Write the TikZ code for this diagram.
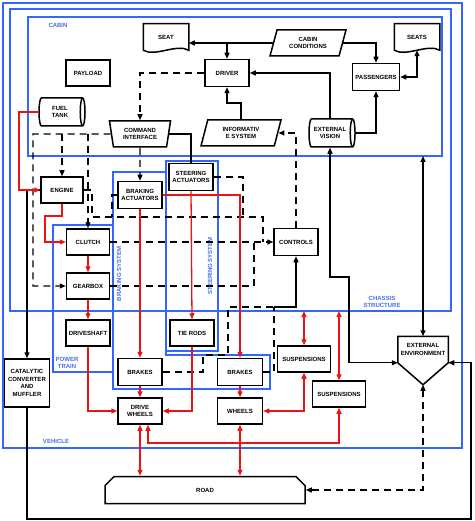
\documentclass[tikz,border=0pt]{standalone}
\usepackage{fontspec}
\setmainfont{Liberation Sans}
\usetikzlibrary{shapes.geometric,shapes.misc,arrows.meta}
\definecolor{frameblue}{RGB}{51,102,255}
\definecolor{tagblue}{RGB}{70,110,230}
\definecolor{flowred}{RGB}{235,20,20}
\begin{document}
\begin{tikzpicture}[x=1pt,y=-1pt,>={Triangle[length=6pt,width=5pt]},
  box/.style={draw,line width=1.5pt,fill=white,minimum width=44pt,minimum height=27pt,
    inner sep=1pt,align=center,font=\bfseries\fontsize{6}{7.5}\selectfont},
  plain/.style={box,draw=none,fill=none},
  cyl/.style={box,cylinder,aspect=0.35,minimum width=28pt,minimum height=46pt},
  slant/.style={box,trapezium,trapezium left angle=63,trapezium right angle=117,
    trapezium stretches body,minimum height=26pt},
  outline/.style={line width=1.5pt},
  frame/.style={draw=frameblue,line width=1.5pt},
  tag/.style={text=tagblue,align=center,font=\bfseries\fontsize{6}{7.5}\selectfont},
  link/.style={line width=1.3pt},
  sig/.style={link,dash pattern=on 7pt off 5pt},
  flow/.style={link,draw=flowred}]
\useasboundingbox (0,0) rectangle (474,521);
% Frames
\draw[frame,line width=2.5pt] (3,3) rectangle (462,448);
\draw[frame] (10,9) rectangle (451,311);
\draw[frame] (28,17) rectangle (442,156);
\draw[frame] (166,161) rectangle (218,351);
\draw[frame] (113,172) -- (166,172) -- (166,355) -- (270,355) -- (270,389) -- (113,389) -- cycle;
\draw[frame] (53,225) rectangle (113,372);
% Frame labels
\node[tag] (lcabin) at (58,25) {CABIN};
\node[tag] (lchassis) at (382,302) {CHASSIS\\STRUCTURE};
\node[tag] (lvehicle) at (56,441) {VEHICLE};
\node[tag] (lpower) at (67,363) {POWER\\TRAIN};
\node[tag,rotate=90] (lbraking) at (119,274) {BRAKING SYSTEM};
\node[tag,rotate=90] (lsteering) at (210,266) {STEERING SYSTEM};
% Cabin
\node[plain,minimum height=25pt] (seat) at (166,37) {SEAT};
\node[plain,minimum height=25pt] (seats) at (417,37) {SEATS};
\node[slant,minimum width=76pt] (cabcond) at (308,43) {CABIN\\CONDITIONS};
\node[box] (driver) at (227,73) {DRIVER};
\node[box,minimum width=47pt] (pass) at (376,77) {PASSENGERS};
\node[box,minimum height=26pt] (payload) at (88,73) {PAYLOAD};
\node[cyl] (fuel) at (60,112) {FUEL\\TANK};
\node[box,trapezium,shape border rotate=180,trapezium left angle=74,trapezium right angle=74,
  trapezium stretches body,minimum width=61pt,minimum height=26pt] (cmd) at (140,134) {COMMAND\\INTERFACE};
\node[slant,minimum width=80pt,trapezium left angle=64,trapezium right angle=116] (info) at (241,133) {INFORMATIV\\E SYSTEM};
\node[cyl] (extvis) at (330,133) {EXTERNAL\\VISION};
% Chassis
\node[box,minimum width=42pt,minimum height=26pt] (engine) at (62,190) {ENGINE};
\node[box] (brakact) at (140,195) {BRAKING\\ACTUATORS};
\node[box] (steeract) at (191,177) {STEERING\\ACTUATORS};
\node[box,minimum width=43pt,minimum height=26pt] (clutch) at (88,242) {CLUTCH};
\node[box,minimum width=43pt,minimum height=26pt] (gearbox) at (88,286) {GEARBOX};
\node[box] (controls) at (296,242) {CONTROLS};
\node[box,minimum height=26pt] (driveshaft) at (88,333) {DRIVESHAFT};
\node[box,minimum height=26pt] (tierods) at (192,333) {TIE RODS};
% Vehicle
\node[box,minimum width=45pt,minimum height=48pt] (catalytic) at (27,383) {CATALYTIC\\CONVERTER\\AND\\MUFFLER};
\node[box] (brakesA) at (140,372) {BRAKES};
\node[box,minimum width=45pt] (brakesB) at (240,372) {BRAKES};
\node[box,minimum height=26pt] (drivewh) at (140,411) {DRIVE\\WHEELS};
\node[box,minimum width=45pt,minimum height=26pt] (wheels) at (240,411) {WHEELS};
\node[box,minimum width=53pt,minimum height=26pt] (suspA) at (304,359) {SUSPENSIONS};
\node[box,minimum width=53pt,minimum height=26pt] (suspB) at (339,394) {SUSPENSIONS};
\node[plain,minimum width=49pt,minimum height=25pt] (env) at (423,349.5) {EXTERNAL\\ENVIRONMENT};
\node[box,chamfered rectangle,chamfered rectangle corners={north west,north east},
  chamfered rectangle sep=6pt,minimum width=200pt,minimum height=27pt] (road) at (205,490) {ROAD};
% Outlines
\foreach \d in {seat,seats}
  \draw[outline] (\d.south west) -- (\d.north west) -- (\d.north east) -- (\d.south east)
    .. controls +(-12,-7) and +(12,7) .. (\d.south west) -- cycle;
\coordinate (envtip) at ([yshift=-22pt]env.south);
\draw[outline] (env.north west) -- (env.north east) -- (env.south east) -- (envtip) -- (env.south west) -- cycle;
\coordinate (cabinb) at (423,156);
\coordinate (chA) at (304,311);
\coordinate (chB) at (339,311);
\coordinate (jbrk) at (274,307);
% Cabin links
\draw[link,->] (cabcond.west) -- (seat.east |- cabcond.west);
\draw[link,->] (driver.north |- cabcond.west) -- (driver.north);
\draw[link,->] (cabcond.east) -| (pass.north);
\draw[link,<->] (pass.east) -| (seats.south);
\draw[link,->] (extvis.north) |- (driver.east);
\draw[link,->] (extvis.east) -| (pass.south);
\draw[link,->] (info.north) -- (info.north |- 0,103) -| (driver.south);
% Commands
\draw[sig,->] (driver.west) -| (cmd.north);
\draw[sig,->] (cmd.west) -- (33,134) |- (gearbox.west);
\draw[sig,->] (engine.north |- cmd.west) -- (engine.north);
\draw[sig,->] (clutch.north |- cmd.west) -- (clutch.north);
\draw[sig,->] (cmd.south) -- (brakact.north);
\draw[link] (cmd.east) -| (steeract.north);
\draw[sig,->] (controls.north) |- (info.east);
% Feedback to controls
\draw[sig,->] (clutch.east) -- (controls.west);
\draw[sig] (gearbox.east) -| (254,242);
\draw[sig] (engine.east) -- (92,190) -- (92,217) -| (263,242);
\draw[sig] (brakact.west) -- (112,195) -- (112,217);
\draw[sig] (steeract.east) -| (243,217);
\draw[sig] (brakesA.east) -- (203,372) -- (203,355) -| (228,307) -- (jbrk);
\draw[sig] (brakesB.east) -| (jbrk);
\draw[link,->] (jbrk) -| (controls.south);
% Exhaust and environment
\draw[link,->] (engine.west) -| (catalytic.north);
\draw[link,->] (catalytic.south) -- (27,519) -- (471,519) |- (env.south east);
\draw[link,<->] (extvis.south) |- (349,277) |- (env.south west);
\draw[link,<->] (cabinb) -- (env.north);
\draw[sig,<->] (envtip) |- (road.east);
% Power flow
\draw[flow,->] (fuel.west) -- (19,112) |- (engine.west);
\draw[flow,->] (engine.south) |- (45,216) |- (clutch.west);
\draw[flow,->] (clutch.south) -- (gearbox.north);
\draw[flow,->] (gearbox.south) -- (driveshaft.north);
\draw[flow,->] (driveshaft.south) |- (drivewh.west);
\draw[flow,->] (tierods.south) |- (drivewh.east);
\draw[flow,->] (brakact.south) -- (brakesA.north);
\draw[flow,->] (brakesA.south) -- (drivewh.north);
\draw[flow,->] (steeract.south) -- (tierods.north);
\draw[flow,->] (brakact.east) -| (brakesB.north);
\draw[flow,->] (brakesB.south) -- (wheels.north);
\draw[flow,<->] (chA) -- (suspA.north);
\draw[flow,<->] (chB) -- (suspB.north);
\draw[flow,<->] (suspA.south) |- (wheels.east);
\draw[flow,<->] (suspB.south) -- (339,443) -| ([xshift=8pt]drivewh.south);
\draw[flow,<->] (drivewh.south) -- (drivewh.south |- road.north);
\draw[flow,<->] (wheels.south) -- (wheels.south |- road.north);
\end{tikzpicture}
\end{document}
